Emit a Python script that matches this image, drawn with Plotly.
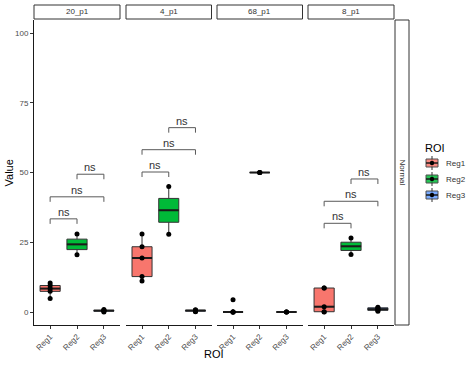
import numpy as np
import plotly.graph_objects as go

# ---------------- data ----------------
panels = ["20_p1", "4_p1", "68_p1", "8_p1"]
regions = ["Reg1", "Reg2", "Reg3"]
row_label = "Normal"

# values per panel (order follows `panels`)
reg1_values = [
    [4.8, 7.4, 8.4, 9.5, 10.4],
    [11.1, 12.7, 19.4, 23.4, 28.0],
    [0.0, 0.0, 0.0, 0.0, 4.4],
    [0.0, 0.1, 1.9, 8.6, 8.6],
]
reg2_values = [
    [20.5, 28.0],
    [27.9, 45.0],
    [50.0, 50.0, 50.0],
    [20.6, 26.5],
]
reg3_values = [
    [0.0, 0.3, 0.5, 0.6, 0.9],
    [0.1, 0.3, 0.5, 0.6, 0.8],
    [0.0, 0.0, 0.0],
    [0.3, 0.6, 1.0, 1.5, 1.7],
]

bracket_pairs = [("Reg1", "Reg2"), ("Reg1", "Reg3"), ("Reg2", "Reg3")]
bracket_heights = [
    [33.4, 41.3, 49.4],
    [50.2, 58.2, 66.1],
    [],
    [31.8, 39.7, 47.7],
]
bracket_label = "ns"

y_ticks = [0, 25, 50, 75, 100]

# ---------------- styling ----------------
W, H = 474, 365
FONT = "Liberation Sans, Arial, sans-serif"
colors = {"Reg1": "#F8766D", "Reg2": "#00BA38", "Reg3": "#619CFF"}
panel_px = [(34, 120), (126, 211.5), (217, 302.5), (308, 394)]
plot_top, plot_bottom = 20, 325
tip = 1.8
TICK_COLOR = "#4D4D4D"


def px_x(p):
    return p / W


def px_y(p):
    return 1 - p / H


def box_stats(v):
    v = np.sort(np.asarray(v, dtype=float))
    q1, med, q3 = np.percentile(v, [25, 50, 75])
    iqr = q3 - q1
    lo = v[v >= q1 - 1.5 * iqr].min()
    hi = v[v <= q3 + 1.5 * iqr].max()
    return q1, med, q3, lo, hi


def paper_text(x, y, text, size, color, angle=0, xanchor="center"):
    return dict(x=px_x(x), y=px_y(y), xref="paper", yref="paper", text=text,
                showarrow=False, textangle=angle, xanchor=xanchor, yanchor="middle",
                font=dict(size=size, color=color, family=FONT))


fig = go.Figure()
annotations = []
shapes = []

values_by_region = {"Reg1": reg1_values, "Reg2": reg2_values, "Reg3": reg3_values}

for k, panel in enumerate(panels):
    xa = "x" if k == 0 else f"x{k + 1}"
    for i, reg in enumerate(regions):
        v = values_by_region[reg][k]
        q1, med, q3, lo, hi = box_stats(v)
        xpos = i + 1
        fig.add_trace(go.Box(
            x=[xpos], q1=[q1], median=[med], q3=[q3],
            lowerfence=[lo], upperfence=[hi],
            width=0.75, whiskerwidth=0, boxpoints=False,
            fillcolor=colors[reg], line=dict(color="#333333", width=1),
            xaxis=xa, yaxis="y", showlegend=False, name=reg,
        ))
        fig.add_trace(go.Scatter(
            x=[xpos - 0.375, xpos + 0.375], y=[med, med], mode="lines",
            line=dict(color="#1A1A1A", width=2), xaxis=xa, yaxis="y",
            showlegend=False, hoverinfo="skip",
        ))
        fig.add_trace(go.Scatter(
            x=[xpos] * len(v), y=v, mode="markers",
            marker=dict(color="black", size=5), xaxis=xa, yaxis="y",
            showlegend=False, name=reg,
        ))
    for (a, b), h in zip(bracket_pairs, bracket_heights[k]):
        xa_n = regions.index(a) + 1
        xb_n = regions.index(b) + 1
        fig.add_trace(go.Scatter(
            x=[xa_n, xa_n, xb_n, xb_n], y=[h - tip, h, h, h - tip],
            mode="lines", line=dict(color="#595959", width=1),
            xaxis=xa, yaxis="y", showlegend=False, hoverinfo="skip",
        ))
        annotations.append(dict(
            x=(xa_n + xb_n) / 2, y=h, xref=xa, yref="y", text=bracket_label,
            showarrow=False, xanchor="center", yanchor="bottom", yshift=-1,
            font=dict(size=11, color="#333333", family=FONT),
        ))
    # strip
    x0, x1 = panel_px[k]
    shapes.append(dict(type="rect", xref="paper", yref="paper",
                       x0=px_x(x0), x1=px_x(x1), y0=px_y(19), y1=px_y(5),
                       line=dict(color="#333333", width=1), fillcolor="white"))
    annotations.append(paper_text((x0 + x1) / 2, 12, panel, 8, "#333333"))

# right strip
shapes.append(dict(type="rect", xref="paper", yref="paper",
                   x0=px_x(395), x1=px_x(409), y0=px_y(plot_bottom), y1=px_y(plot_top),
                   line=dict(color="#333333", width=1), fillcolor="white"))
annotations.append(paper_text(402, (plot_top + plot_bottom) / 2, row_label, 8, "#333333", angle=90))

# axis titles
annotations.append(paper_text(8, (plot_top + plot_bottom) / 2, "Value", 11, "black", angle=-90))
annotations.append(paper_text(214, 354, "ROI", 11, "black"))

# manual legend
annotations.append(paper_text(423, 147.5, "ROI", 11, "black", xanchor="left"))
legend_y = [163, 179, 195]
for reg, cy in zip(regions, legend_y):
    kx0, kx1 = 426, 438
    kxc = (kx0 + kx1) / 2
    shapes.append(dict(type="line", xref="paper", yref="paper",
                       x0=px_x(kxc), x1=px_x(kxc), y0=px_y(cy + 7), y1=px_y(cy - 7),
                       line=dict(color="#333333", width=1)))
    shapes.append(dict(type="rect", xref="paper", yref="paper",
                       x0=px_x(kx0), x1=px_x(kx1), y0=px_y(cy + 4), y1=px_y(cy - 4),
                       line=dict(color="#333333", width=1), fillcolor=colors[reg], opacity=0.85))
    shapes.append(dict(type="line", xref="paper", yref="paper",
                       x0=px_x(kx0), x1=px_x(kx1), y0=px_y(cy), y1=px_y(cy),
                       line=dict(color="#1A1A1A", width=1.5)))
    shapes.append(dict(type="circle", xref="paper", yref="paper",
                       x0=px_x(kxc - 2.2), x1=px_x(kxc + 2.2), y0=px_y(cy + 2.2), y1=px_y(cy - 2.2),
                       line=dict(color="black", width=0), fillcolor="black"))
    annotations.append(paper_text(444, cy, reg, 8, "#333333", xanchor="left"))

xaxis_common = dict(range=[0.4, 3.6], tickvals=[1, 2, 3], ticktext=regions, tickangle=-45,
                    showline=True, linecolor="#1A1A1A", linewidth=1, ticks="outside",
                    ticklen=3, tickcolor="#333333", tickfont=dict(size=8, color=TICK_COLOR, family=FONT),
                    showgrid=False, zeroline=False, anchor="y", fixedrange=True, automargin=False)
layout_axes = {}
for k in range(len(panels)):
    name = "xaxis" if k == 0 else f"xaxis{k + 1}"
    x0, x1 = panel_px[k]
    layout_axes[name] = dict(xaxis_common, domain=[px_x(x0), px_x(x1)])

fig.update_layout(
    width=W, height=H,
    margin=dict(l=0, r=0, t=0, b=0, autoexpand=False),
    paper_bgcolor="white", plot_bgcolor="white",
    font=dict(family=FONT),
    showlegend=False,
    yaxis=dict(domain=[px_y(plot_bottom), px_y(plot_top)], range=[-4.66, 104.7],
               tickvals=y_ticks, showline=True, linecolor="#1A1A1A", linewidth=1,
               ticks="outside", ticklen=3, tickcolor="#333333",
               tickfont=dict(size=8, color=TICK_COLOR, family=FONT),
               showgrid=False, zeroline=False, anchor="x", fixedrange=True, automargin=False),
    annotations=annotations,
    shapes=shapes,
    **layout_axes,
)

fig.write_html("out.html", config={"displayModeBar": False},
               post_script="document.body.style.margin='0';")
